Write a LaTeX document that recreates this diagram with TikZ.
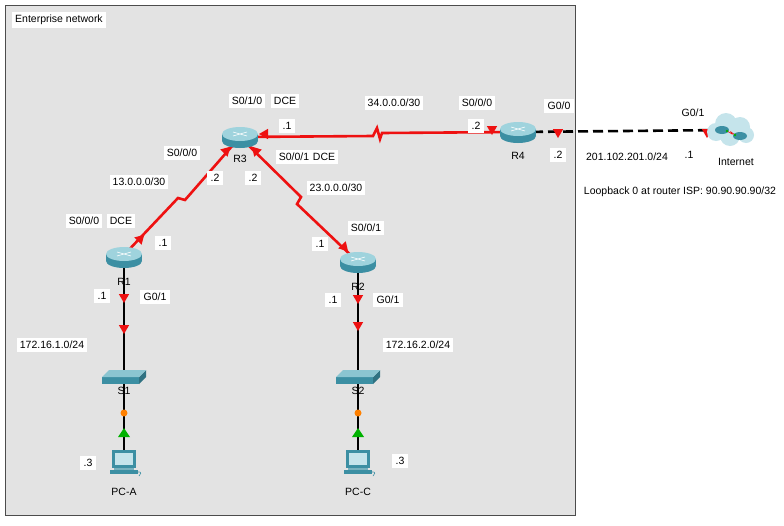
\documentclass[tikz,border=0pt]{standalone}
\usepackage{fontspec}
\setmainfont{Liberation Sans}
\usetikzlibrary{calc,shapes.geometric}
\definecolor{bg}{HTML}{E3E3E3}
\definecolor{rlight}{HTML}{9FD3DD}
\definecolor{rdark}{HTML}{3C8FA3}
\definecolor{pkred}{HTML}{EE1111}
\tikzset{
  lbl/.style={fill=white,inner sep=3.2pt,font=\fontsize{10.5}{12}\selectfont},
  dev/.style={font=\fontsize{10.5}{12}\selectfont},
  serial/.style={pkred,line width=2.6pt},
  eth/.style={black,line width=2.6pt},
  tri/.style={fill=pkred}
}
\newcommand{\tri}[2]{\fill[tri,shift={#1},rotate=#2] (0:6pt)--(120:6pt)--(240:6pt)--cycle;}
\newcommand{\router}[2]{%
 \begin{scope}[shift={#1}]
  \fill[rdark] (0,4) ellipse (18pt and 7pt);
  \fill[rdark] (-18,-3) rectangle (18,4);
  \fill[rlight] (0,-3) ellipse (18pt and 7pt);
  \draw[white,line width=0.6pt] (-7,-5)--(7,-1) (-7,-1)--(7,-5);
  \coordinate (#2) at (0,0);
 \end{scope}}
\newcommand{\switch}[2]{%
 \begin{scope}[shift={#1}]
  \fill[rdark] (-22,4) rectangle (15,11);
  \fill[rdark!80!black] (15,4)--(22,-3)--(22,4)--(15,11)--cycle;
  \fill[rlight!80!rdark] (-22,4)--(-15,-3)--(22,-3)--(15,4)--cycle;
  \coordinate (#2) at (0,0);
 \end{scope}}
\newcommand{\pc}[2]{%
 \begin{scope}[shift={#1}]
  \fill[rdark] (-12,-12) rectangle (12,6);
  \fill[rlight!60!white] (-9,-9) rectangle (9,3);
  \fill[rdark] (-14,8) rectangle (14,12);
  \fill[rdark!70] (-10,6) rectangle (10,8);
  \draw[rdark,line width=0.6pt] (14,10) .. controls (18,9) and (17,13) .. (15,14);
  \coordinate (#2) at (0,0);
 \end{scope}}
\begin{document}
\begin{tikzpicture}[x=1pt,y=-1pt]
\useasboundingbox (0,0) rectangle (784,525);
\fill[white] (0,0) rectangle (784,525);
\filldraw[fill=bg,draw=black!70,line width=0.6pt] (5,5) rectangle (575,515);
\node[lbl] (ent) at (59,20) {Enterprise network};

\coordinate (r1) at (124,255); \coordinate (r3) at (240,137);
\coordinate (r2) at (358,262); \coordinate (r4) at (518,132);
\coordinate (s1) at (124,377); \coordinate (s2) at (358,377);
\coordinate (pa) at (124,462); \coordinate (pcc) at (358,462);
\coordinate (inet) at (730,130);

\draw[serial] (r1) -- (178,198) -- (185,200) -- (r3);
\draw[serial] (r3) -- (301,197) -- (297,204) -- (r2);
\draw[serial] (r3) -- (373,136) -- (377,128) -- (380,139) -- (382,133) -- (r4);
\draw[eth] (r1) -- (s1);
\draw[eth] (r2) -- (s2);
\draw[eth] (s1) -- (pa);
\draw[eth] (s2) -- (pcc);
\draw[black,line width=2.6pt,dash pattern=on 10pt off 5pt] (r4) -- (inet);

\tri{(140,239)}{45} \tri{(226,151)}{45}
\tri{(256,151)}{133} \tri{(344,247)}{-47}
\tri{(265,134)}{180} \tri{(492,129)}{-90}
\tri{(558,132)}{-90} \tri{(707,132)}{-90}
\tri{(124,297)}{-90} \tri{(124,328)}{-90}
\tri{(358,298)}{-90} \tri{(358,325)}{-90}
\fill[green!70!black] (124,428)--(118,437)--(130,437)--cycle;
\fill[green!70!black] (358,428)--(352,437)--(364,437)--cycle;
\fill[orange] (124,413) circle (3.5pt);
\fill[orange] (358,413) circle (3.5pt);

\router{(124,257)}{R1dev} \router{(240,137)}{R3dev}
\router{(358,262)}{R2dev} \router{(518,132)}{R4dev}
\switch{(124,373)}{S1dev} \switch{(358,373)}{S2dev}
\pc{(124,462)}{PAdev} \pc{(358,462)}{PCdev}
\begin{scope}[shift={(730,130)}]
 \fill[rlight!60!white] (-14,2) circle (9pt) (-4,-6) circle (11pt) (10,-3) circle (10pt) (16,5) circle (8pt) (0,6) circle (10pt);
 \fill[rdark] (-8,0) ellipse (7pt and 4pt); \fill[rdark] (10,6) ellipse (7pt and 4pt);
 \draw[pkred,line width=0.6pt] (-3,1)--(2,4)--(1,2)--(5,5);
 \fill[green!70!black] (-3,1) circle (1.3pt) (5,5) circle (1.3pt);
 \coordinate (INdev) at (0,0);
\end{scope}

\node[dev] (R1n) at (124,282) {R1};
\node[dev] (R2n) at (358,287) {R2};
\node[dev] (R3n) at (240,159) {R3};
\node[dev] (R4n) at (518,156) {R4};
\node[dev] (S1n) at (124,391) {S1};
\node[dev] (S2n) at (358,391) {S2};
\node[dev] (PAn) at (124,492) {PC-A};
\node[dev] (PCn) at (358,492) {PC-C};
\node[dev] (INn) at (736,162) {Internet};

\node[lbl] (l1) at (247,101) {S0/1/0};
\node[lbl] (l2) at (285,101) {DCE};
\node[lbl] (l3) at (287,126) {.1};
\node[lbl] (l4) at (394,103) {34.0.0.0/30};
\node[lbl] (l5) at (477,103) {S0/0/0};
\node[lbl] (l6) at (476,126) {.2};
\node[lbl] (l7) at (559,106) {G0/0};
\node[lbl] (l8) at (558,155) {.2};
\node[lbl] (l9) at (693,113) {G0/1};
\node[lbl] (l10) at (689,155) {.1};
\node[lbl] (l11) at (627,157) {201.102.201.0/24};
\node[lbl] (l12) at (680,192) {Loopback 0 at router ISP: 90.90.90.90/32};
\node[lbl] (l13) at (182,153) {S0/0/0};
\node[lbl] (l14) at (139,182) {13.0.0.0/30};
\node[lbl] (l15) at (215,178) {.2};
\node[lbl] (l16) at (253,178) {.2};
\node[lbl] (l17) at (294,157) {S0/0/1};
\node[lbl] (l18) at (324,157) {DCE};
\node[lbl] (l19) at (336,188) {23.0.0.0/30};
\node[lbl] (l20) at (84,221) {S0/0/0};
\node[lbl] (l21) at (121,221) {DCE};
\node[lbl] (l22) at (163,243) {.1};
\node[lbl] (l23) at (320,244) {.1};
\node[lbl] (l24) at (366,228) {S0/0/1};
\node[lbl] (l25) at (102,296) {.1};
\node[lbl] (l26) at (155,297) {G0/1};
\node[lbl] (l27) at (333,300) {.1};
\node[lbl] (l28) at (388,300) {G0/1};
\node[lbl] (l29) at (52,345) {172.16.1.0/24};
\node[lbl] (l30) at (418,345) {172.16.2.0/24};
\node[lbl] (l31) at (88,463) {.3};
\node[lbl] (l32) at (400,461) {.3};
\end{tikzpicture}
\end{document}
